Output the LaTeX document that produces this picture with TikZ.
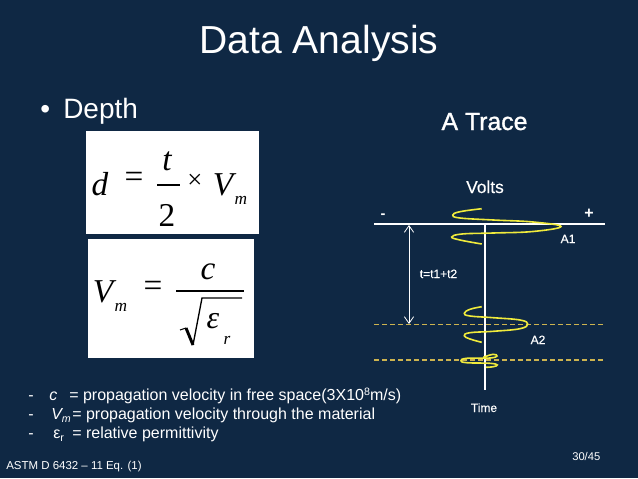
\documentclass[tikz,border=0pt]{standalone}
\usepackage{fontspec}
\setmainfont{Liberation Sans}
\newfontfamily\eqfont{Liberation Serif}
\newfontfamily\heavyfont[FakeBold=1.2]{Liberation Sans}
\newfontfamily\midfont[FakeBold=0.4]{Liberation Sans}
\usetikzlibrary{arrows.meta,positioning}
\definecolor{slidebg}{RGB}{15,40,68}
\definecolor{tracecol}{RGB}{240,235,60}
\definecolor{dashcol}{RGB}{205,180,80}
\tikzset{
     label/.style={text=white,inner sep=0,anchor=base west},
     bodytext/.style={label,font=\fontsize{12}{14}\selectfont},
     smalltext/.style={label,anchor=base,font=\midfont\fontsize{9}{11}\selectfont},
     eqbox/.style={fill=white,draw=none,inner sep=0,anchor=north west},
     eqsym/.style={text=black,inner sep=0,anchor=base,font=\eqfont\fontsize{25}{30}\selectfont},
     eqvar/.style={eqsym,font=\eqfont\itshape\fontsize{25}{30}\selectfont},
     eqsub/.style={eqsym,font=\eqfont\itshape\fontsize{13}{15}\selectfont},
     axisline/.style={draw=white,line width=2.2pt},
     levelline/.style={draw=dashcol,line width=0.9pt,dash pattern=on 3.5pt off 2.5pt},
     traceline/.style={draw=tracecol,line width=1.2pt}
}
\begin{document}
\begin{tikzpicture}[x=0.75pt,y=-0.75pt]
    \fill[slidebg] (0,0) rectangle (638,478);
    \useasboundingbox (0,0) rectangle (638,478);

    \node[text=white,inner sep=0,anchor=base,font=\fontsize{29.3}{34}\selectfont] (title) at (319,54) {Data Analysis};
    \node[label,font=\fontsize{21}{25}\selectfont] (bullet) at (40,118) {•};
    \node[label,font=\fontsize{21}{25}\selectfont] (depth) at (63,118) {Depth};

    % first formula
    \node[eqbox,minimum width=129.75pt,minimum height=77.25pt] (boxd) at (86,131) {};
    \node[eqvar] (d) at (100,195) {d};
    \node[eqsym] (eq1) at (134,187) {=};
    \node[eqvar] (t) at (167,170) {t};
    \node[eqsym] (two) at (167,226) {2};
    \coordinate (frac1a) at (157,185);
    \coordinate (frac1b) at (180,185);
    \draw[black,line width=0.8pt] (frac1a) -- (frac1b);
    \node[eqsym,font=\eqfont\fontsize{20}{24}\selectfont] (times) at (195,188) {×};
    \node[eqvar] (v1) at (223,195) {V};
    \node[eqsub] (m1) at (241,204) {m};

    % second formula
    \node[eqbox,minimum width=124.5pt,minimum height=89.25pt] (boxv) at (88,239) {};
    \node[eqvar] (v2) at (103,302) {V};
    \node[eqsub] (m2) at (121,311) {m};
    \node[eqsym] (eq2) at (153,296) {=};
    \node[eqvar] (c) at (208,279) {c};
    \coordinate (frac2a) at (176,291);
    \coordinate (frac2b) at (244,291);
    \draw[black,line width=1pt] (frac2a) -- (frac2b);
    \coordinate (rt1) at (180,330);
    \coordinate (rt2) at (186,328);
    \coordinate (rt3) at (193,345);
    \coordinate (rt4) at (202,298);
    \coordinate (rt5) at (242,298);
    \draw[black,line width=0.8pt] (rt1) -- (rt2);
    \draw[black,line width=2.2pt] (rt2) -- (rt3);
    \draw[black,line width=1pt] (rt3) -- (rt4) -- (rt5);
    \node[eqvar,font=\eqfont\itshape\fontsize{24}{28}\selectfont] (eps) at (213,328) {ε};
    \node[eqsub] (r) at (227,344) {r};

    % legend
    \node[bodytext] (dash1) at (28,400) {-};
    \node[bodytext] (lvar) at (49,400) {\itshape c};
    \node[bodytext] (line1) at (69,400) {= propagation velocity in free space(3X10\raisebox{0.3em}{\fontsize{8}{9}\selectfont 8}m/s)};
    \node[bodytext] (dash2) at (28,419) {-};
    \node[bodytext] (lv) at (51,419) {\itshape V\raisebox{-0.2em}{\fontsize{8}{9}\selectfont m}};
    \node[bodytext] (line2) at (72,419) {= propagation velocity through the material};
    \node[bodytext] (dash3) at (28,438) {-};
    \node[bodytext] (le) at (53,438) {ε\raisebox{-0.2em}{\fontsize{8}{9}\selectfont r}};
    \node[bodytext] (line3) at (72,438) {= relative permittivity};
    \node[label,font=\fontsize{8.6}{10}\selectfont] (astm) at (6,469) {ASTM D 6432 – 11 Eq. (1)};
    \node[label,font=\fontsize{8.4}{10}\selectfont] (page) at (572,460) {30/45};

    % trace
    \node[text=white,inner sep=0,anchor=base,font=\heavyfont\fontsize{18.6}{22}\selectfont] (atrace) at (484.5,130) {A Trace};
    \node[text=white,inner sep=0,anchor=base,font=\midfont\fontsize{13}{15}\selectfont] (volts) at (485,193) {Volts};
    \node[smalltext,font=\bfseries\fontsize{11}{13}\selectfont] (minus) at (383,218) {-};
    \node[smalltext,font=\bfseries\fontsize{12}{14}\selectfont] (plus) at (589,218) {+};
    \node[smalltext] (aone) at (568,243) {A1};
    \node[smalltext] (atwo) at (538,344) {A2};
    \node[smalltext] (tsum) at (438.5,278) {t=t1+t2};
    \node[smalltext] (timelab) at (484,412) {Time};

    \coordinate (hl) at (374,224);
    \coordinate (hr) at (605,224);
    \coordinate (vt) at (485,224);
    \coordinate (vb) at (485,390);
    \coordinate (arrt) at (409,225);
    \coordinate (arrb) at (409,324);
    \coordinate (levelal) at (374,324.5);
    \coordinate (levelar) at (605,324.5);
    \coordinate (levelbl) at (374,360);
    \coordinate (levelbr) at (605,360);

    \draw[levelline] (levelal) -- (levelar);
    \draw[levelline] (levelbl) -- (levelbr);
    \draw[axisline] (hl) -- (hr);
    \draw[axisline] (vt) -- (vb);
    \draw[white,line width=0.6pt,{Straight Barb[length=5pt,width=7pt]}-{Straight Barb[length=5pt,width=7pt]}] (arrt) -- (arrb);

    \draw[traceline] plot[smooth,tension=0.7] coordinates {(481.7,208.7) (460,211.7) (452.7,215) (460,218) (493.3,220) (533,222) (561,226.5) (533,231.5) (493.3,233) (462,234) (451.7,237) (460,240) (481.7,244)};
    \draw[traceline] plot[smooth,tension=0.7] coordinates {(481.7,306.7) (470,309.3) (464.3,313.3) (470,316) (493.3,317.7) (520,320) (527.7,324) (520,328.7) (493.3,331.3) (470,332.7) (464.3,335.7) (470,339) (481.7,342.3)};
    \draw[traceline] plot[smooth,tension=0.7] coordinates {(483.3,357.3) (493,354.3) (497,356) (490,358) (466.7,358.3) (461,360.7) (466.7,362.7) (490,363.3) (497.3,365) (493.3,366.7) (486,367.3)};
  \end{tikzpicture}
\end{document}
